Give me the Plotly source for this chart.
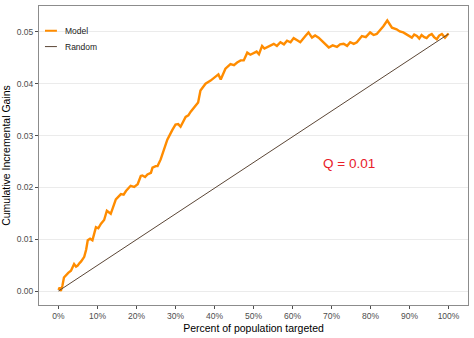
import plotly.graph_objects as go

# ---- data ----
model_x = [0.000, 0.003, 0.006, 0.010, 0.014, 0.019, 0.025, 0.032, 0.040, 0.045, 0.049, 0.054,
           0.058, 0.066, 0.071, 0.075, 0.081, 0.087, 0.096, 0.102, 0.109, 0.117, 0.124, 0.134,
           0.140, 0.147, 0.160, 0.167, 0.173, 0.185, 0.194, 0.203, 0.211, 0.215, 0.222, 0.228,
           0.237, 0.241, 0.249, 0.254, 0.262, 0.266, 0.279, 0.292, 0.300, 0.307, 0.313, 0.326,
           0.333, 0.339, 0.352, 0.358, 0.364, 0.377, 0.390, 0.403, 0.410, 0.416, 0.428, 0.441,
           0.450, 0.458, 0.467, 0.475, 0.484, 0.492, 0.501, 0.508, 0.514, 0.522, 0.528, 0.535,
           0.544, 0.552, 0.560, 0.569, 0.578, 0.586, 0.595, 0.603, 0.612, 0.620, 0.633, 0.641,
           0.650, 0.658, 0.667, 0.680, 0.693, 0.703, 0.714, 0.722, 0.731, 0.740, 0.748, 0.757,
           0.765, 0.778, 0.788, 0.799, 0.808, 0.816, 0.825, 0.833, 0.843, 0.850, 0.855, 0.867,
           0.875, 0.884, 0.895, 0.906, 0.912, 0.919, 0.925, 0.931, 0.938, 0.944, 0.950, 0.957,
           0.963, 0.970, 0.976, 0.983, 0.991, 1.000]
model_y = [0.0002, 0.0007, 0.0000, 0.0010, 0.0026, 0.0031, 0.0035, 0.0039, 0.0052, 0.0047, 0.0049, 0.0054,
           0.0057, 0.0066, 0.0080, 0.0098, 0.0101, 0.0098, 0.0123, 0.0121, 0.0130, 0.0137, 0.0155, 0.0149,
           0.0163, 0.0177, 0.0187, 0.0186, 0.0193, 0.0203, 0.0201, 0.0206, 0.0222, 0.0223, 0.0220, 0.0225,
           0.0228, 0.0238, 0.0241, 0.0241, 0.0254, 0.0263, 0.0292, 0.0311, 0.0321, 0.0322, 0.0317, 0.0336,
           0.0339, 0.0346, 0.0359, 0.0364, 0.0387, 0.0400, 0.0406, 0.0413, 0.0418, 0.0408, 0.0429, 0.0438,
           0.0436, 0.0441, 0.0445, 0.0445, 0.0460, 0.0456, 0.0460, 0.0462, 0.0457, 0.0473, 0.0468, 0.0471,
           0.0474, 0.0477, 0.0473, 0.0480, 0.0476, 0.0483, 0.0480, 0.0488, 0.0484, 0.0480, 0.0492, 0.0499,
           0.0489, 0.0493, 0.0489, 0.0480, 0.0470, 0.0474, 0.0471, 0.0476, 0.0477, 0.0473, 0.0480, 0.0477,
           0.0480, 0.0492, 0.0490, 0.0499, 0.0494, 0.0496, 0.0503, 0.0511, 0.0522, 0.0514, 0.0508, 0.0505,
           0.0501, 0.0499, 0.0494, 0.0489, 0.0495, 0.0492, 0.0487, 0.0494, 0.0490, 0.0488, 0.0493, 0.0496,
           0.0490, 0.0486, 0.0493, 0.0496, 0.0489, 0.0497]
random_x = [0.0, 1.0]
random_y = [0.0, 0.0496]
x_ticks = [0, 0.1, 0.2, 0.3, 0.4, 0.5, 0.6, 0.7, 0.8, 0.9, 1.0]
x_labels = ["0%", "10%", "20%", "30%", "40%", "50%", "60%", "70%", "80%", "90%", "100%"]
y_ticks = [0.00, 0.01, 0.02, 0.03, 0.04, 0.05]
y_labels = ["0.00", "0.01", "0.02", "0.03", "0.04", "0.05"]
series_names = ["Model", "Random"]
q_label = "Q = 0.01"

ORANGE = "#FF8C00"
RANDOM_C = "#5b4636"
FONT = "Liberation Sans, Arial, sans-serif"

fig = go.Figure()
fig.add_trace(go.Scatter(x=model_x, y=model_y, mode="lines", name=series_names[0],
                         line=dict(color=ORANGE, width=2.4), showlegend=False))
fig.add_trace(go.Scatter(x=random_x, y=random_y, mode="lines", name=series_names[1],
                         line=dict(color=RANDOM_C, width=1), showlegend=False))

# custom ggplot-like legend
L, R, T, B = 38, 469, 5, 307
W, H = R - L, B - T
def px_x(p): return (p - L) / W
def px_y(p): return (B - p) / H
for name, color, ypx, wid in [(series_names[0], ORANGE, 30, 2), (series_names[1], RANDOM_C, 46, 1)]:
    fig.add_shape(type="line", xref="paper", yref="paper",
                  x0=px_x(44), x1=px_x(56), y0=px_y(ypx), y1=px_y(ypx),
                  line=dict(color=color, width=wid))
    fig.add_annotation(xref="paper", yref="paper", x=px_x(62), y=px_y(ypx), text=name,
                       showarrow=False, xanchor="left", yanchor="middle",
                       font=dict(size=8.5, color="#1a1a1a", family=FONT))

fig.add_annotation(x=0.745, y=0.0246, text=q_label, showarrow=False,
                   font=dict(size=13.5, color="#E8202A", family=FONT))

fig.update_layout(
    width=474, height=338,
    margin=dict(l=L, r=474 - R, t=T, b=338 - B),
    plot_bgcolor="white", paper_bgcolor="white",
    font=dict(family=FONT),
    xaxis=dict(range=[-0.05, 1.05], tickvals=x_ticks, ticktext=x_labels,
               showgrid=False, zeroline=False, ticks="outside", ticklen=3,
               tickcolor="#4d4d4d", tickfont=dict(size=8.5, color="#4d4d4d"),
               showline=True, linecolor="#8c8c8c", mirror=True, linewidth=1,
               title=dict(text="Percent of population targeted", standoff=4,
                          font=dict(size=10.5, color="black"))),
    yaxis=dict(range=[-0.0027, 0.0550], tickvals=y_ticks, ticktext=y_labels,
               showgrid=True, gridcolor="#ebebeb", gridwidth=1, zeroline=False,
               ticks="outside", ticklen=3, tickcolor="#4d4d4d",
               tickfont=dict(size=8.5, color="#4d4d4d"),
               showline=True, linecolor="#8c8c8c", mirror=True, linewidth=1,
               title=dict(text="Cumulative Incremental Gains", standoff=4,
                          font=dict(size=10.5, color="black"))),
)
fig.write_html("out.html")
